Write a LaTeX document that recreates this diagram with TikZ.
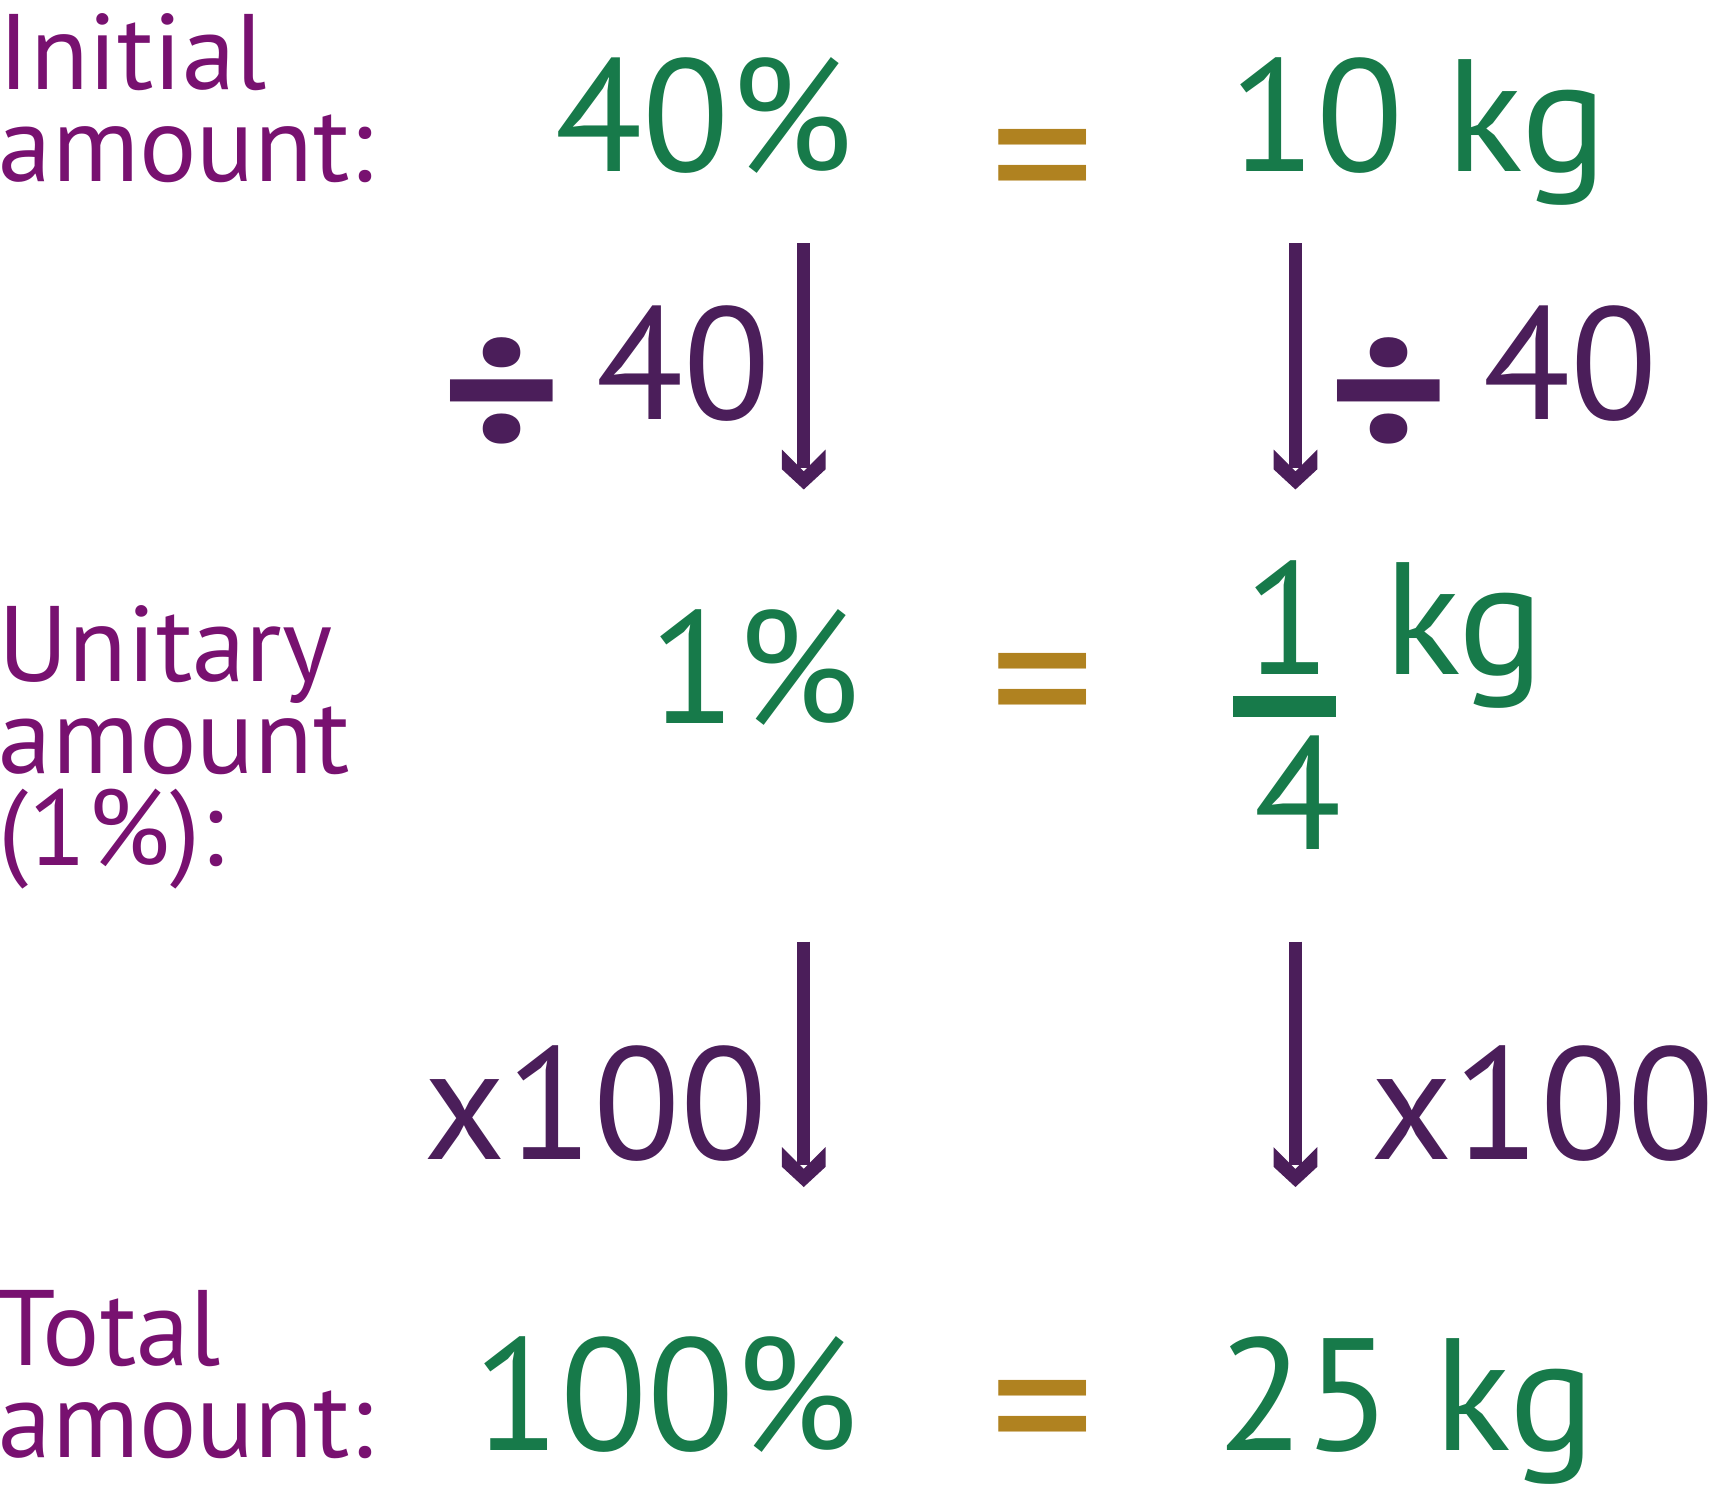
\documentclass[tikz,border=0pt]{standalone}
\usepackage{fontspec}
\setmainfont{PT Sans}
\definecolor{labpurple}{RGB}{120,17,112}
\definecolor{oppurple}{RGB}{75,30,90}
\definecolor{valgreen}{RGB}{23,122,74}
\definecolor{eqgold}{RGB}{176,130,32}
\begin{document}
\begin{tikzpicture}[x=0.5pt,y=-0.5pt,
  lab/.style={anchor=base west, inner sep=0pt, outer sep=0pt, text=labpurple, font=\fontsize{49}{50}\selectfont},
  val/.style={anchor=base west, inner sep=0pt, outer sep=0pt, text=valgreen, font=\fontsize{73}{75}\selectfont},
  valc/.style={val, anchor=base},
  op/.style={anchor=base west, inner sep=0pt, outer sep=0pt, text=oppurple, font=\fontsize{73}{75}\selectfont},
  eqsign/.style={inner sep=0pt, outer sep=0pt, text=eqgold, font=\fontsize{90}{90}\selectfont},
  divsign/.style={inner sep=0pt, outer sep=0pt, text=oppurple, font=\fontsize{100}{100}\selectfont\bfseries},
  shaft/.style={draw=oppurple, line width=6pt},
  head/.style={fill=oppurple}]
\useasboundingbox (0,0) rectangle (1568,1365);

% row labels
\node[lab] (l1a) at (-1,82) {Initial};
\node[lab] (l1b) at (-1,166) {amount:};
\node[lab] (l2a) at (-1,622) {Unitary};
\node[lab] (l2b) at (-1,706) {amount};
\node[lab] (l2c) at (-1,790) {(1\%):};
\node[lab] (l3a) at (-3,1247) {Total};
\node[lab] (l3b) at (-1,1331) {amount:};

% values
\node[val] (v40) at (507,157) {40\%};
\node[val] (v10kg) at (1123,157) {10 kg};
\node[val] (v1p) at (593,661) {1\%};
\node[valc] (vnum) at (1176,616) {1};
\fill[valgreen] (1126,636) rectangle (1220,655);
\node[valc] (vden) at (1185,776) {4};
\node[val] (vkg) at (1264,616) {kg};
\node[val] (v100) at (432,1325) {100\%};
\node[val] (v25kg) at (1112,1325) {25 kg};

% equals signs
\node[eqsign] (eq1) at (952,163.5) {\scalebox{1.05}[1.1]{=}};
\node[eqsign] (eq2) at (952,641.5) {\scalebox{1.05}[1.1]{=}};
\node[eqsign] (eq3) at (952,1305.5) {\scalebox{1.05}[1.1]{=}};

% operations
\node[divsign] (d1) at (458,363) {\scalebox{1.06}[0.9]{÷}};
\node[op] (o1) at (545,383) {40};
\node[divsign] (d2) at (1268,363) {\scalebox{1.06}[0.9]{÷}};
\node[op] (o2) at (1355,383) {40};
\node[op] (m1) at (387,1059) {x100};
\node[op] (m2) at (1252,1059) {x100};

% arrows
\coordinate (a1s) at (734,222); \coordinate (a1e) at (734,447);
\coordinate (a2s) at (1183,222); \coordinate (a2e) at (1183,447);
\coordinate (a3s) at (734,860); \coordinate (a3e) at (734,1084);
\coordinate (a4s) at (1183,860); \coordinate (a4e) at (1183,1084);
\foreach \s/\e in {a1s/a1e,a2s/a2e,a3s/a3e,a4s/a4e}{
  \draw[shaft] (\s) -- ([yshift=10pt]\e);
  \fill[head] (\e) -- ++(20,-18.5) -- ++(0,-18) -- ++(-20,20) -- ++(-20,-20) -- ++(0,18) -- cycle;
}
\end{tikzpicture}
\end{document}
